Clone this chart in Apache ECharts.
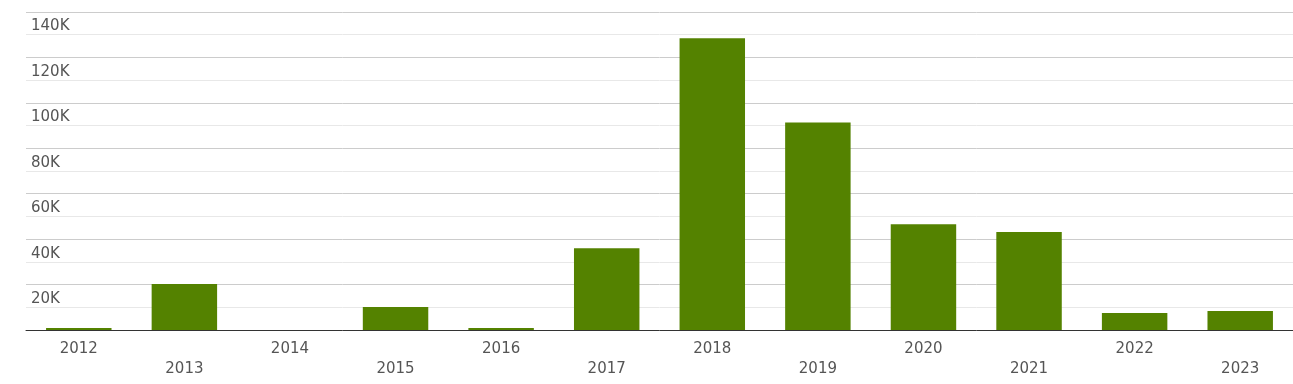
<!DOCTYPE html>
<html><head><meta charset="utf-8">
<script src="https://cdn.jsdelivr.net/npm/echarts@6/dist/echarts.min.js"></script>
<style>html,body{margin:0;padding:0;background:#fff}#c{width:1293px;height:384px}</style>
</head><body><div id="c"></div>
<script>
const categories = ['2012','2013','2014','2015','2016','2017','2018','2019','2020','2021','2022','2023'];
const values = [900, 20200, 0, 10100, 900, 36000, 128400, 91400, 46600, 43100, 7500, 8400];
const yTicks = [0, 20000, 40000, 60000, 80000, 100000, 120000, 140000];

const chart = echarts.init(document.getElementById('c'));
chart.setOption({
  animation: false,
  grid: {left: 26, right: 0, top: 12, bottom: 54, containLabel: false},
  xAxis: {
    type: 'category', data: categories,
    axisTick: {show: false},
    axisLine: {lineStyle: {color: '#333', width: 1}},
    axisLabel: {
      interval: 0, color: '#555', fontFamily: 'DejaVu Sans', fontSize: 15, margin: 9,
      lineHeight: 20,
      formatter: (v, i) => (i % 2 === 1 ? '\n' + v : v)
    }
  },
  yAxis: {
    type: 'value', min: yTicks[0], max: yTicks[yTicks.length - 1], interval: 20000,
    axisLine: {show: false}, axisTick: {show: false},
    splitLine: {lineStyle: {color: '#ccc', width: 1}},
    minorTick: {show: false, splitNumber: 2},
    minorSplitLine: {show: true, lineStyle: {color: '#e8e8e8', width: 1}},
    axisLabel: {
      inside: true, margin: 5, color: '#555', fontFamily: 'DejaVu Sans', fontSize: 15,
      verticalAlign: 'top', padding: [7, 0, 0, 0], showMinLabel: false,
      formatter: v => (v === 0 ? '' : (v / 1000) + 'K')
    }
  },
  series: [{
    type: 'bar', data: values, barWidth: '62%',
    itemStyle: {color: '#548200'}
  }]
});
</script></body></html>
